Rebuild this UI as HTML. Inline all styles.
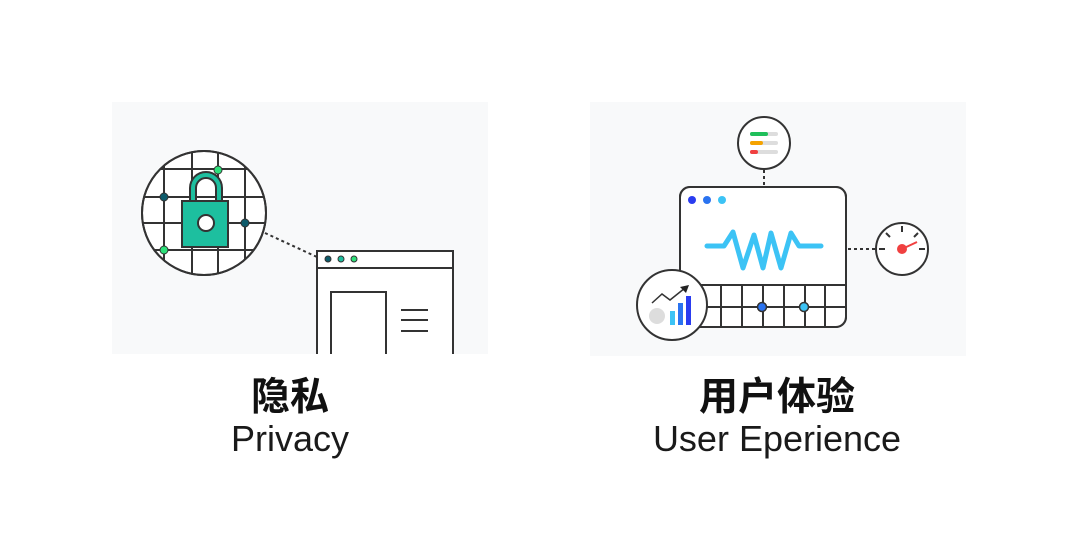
<!DOCTYPE html>
<html><head><meta charset="utf-8"><style>
body{margin:0;width:1080px;height:542px;background:#fff;position:relative;overflow:hidden;font-family:"Liberation Sans","Noto Sans CJK SC",sans-serif}
.t{position:absolute;text-align:center;color:#111;line-height:1}
.cn{font-size:39px;font-weight:bold;font-family:"Noto Sans CJK SC",sans-serif}
.en{font-size:36px;color:#1a1a1a}
</style></head><body>
<svg width="1080" height="542" style="position:absolute;left:0;top:0">
<defs><clipPath id="c1"><circle cx="204" cy="213" r="62"/></clipPath>
<clipPath id="c2"><rect x="680" y="187" width="166" height="140" rx="10"/></clipPath></defs>
<rect x="112" y="102" width="376" height="252" fill="#f8f9fa"/>
<rect x="590" y="102" width="376" height="254" fill="#f8f9fa"/>
<g stroke="#333" stroke-width="2">
<circle cx="204" cy="213" r="62" fill="#fff"/>
<g clip-path="url(#c1)">
<line x1="164" y1="140" x2="164" y2="290"/><line x1="192" y1="140" x2="192" y2="290"/><line x1="218" y1="140" x2="218" y2="290"/><line x1="245" y1="140" x2="245" y2="290"/>
<line x1="130" y1="169" x2="280" y2="169"/><line x1="130" y1="197" x2="280" y2="197"/><line x1="130" y1="223" x2="280" y2="223"/><line x1="130" y1="250" x2="280" y2="250"/>
</g>
<circle cx="204" cy="213" r="62" fill="none"/>
<path d="M190 201 V188 a15 15 0 0 1 32 0 V201 h-6 V188 a9 9 0 0 0 -20 0 V201z" fill="#1dbf9f"/>
<rect x="182" y="201" width="46" height="46" fill="#1dbf9f"/>
<circle cx="206" cy="223" r="8" fill="#fff"/>
<circle cx="218" cy="170" r="4" fill="#2de07a" stroke-width="1"/>
<circle cx="164" cy="197" r="4" fill="#0d5b6b" stroke-width="1"/>
<circle cx="245" cy="223" r="4" fill="#0d5b6b" stroke-width="1"/>
<circle cx="164" cy="250" r="4" fill="#2de07a" stroke-width="1"/>
<line x1="265" y1="233" x2="317" y2="257" stroke-dasharray="3,3"/>
<path d="M317 354 V251 H453 V354" fill="#fff"/>
<line x1="317" y1="268" x2="453" y2="268"/>
<path d="M331 354 V292 H386 V354" fill="none"/>
<line x1="401" y1="310" x2="428" y2="310"/><line x1="401" y1="320" x2="428" y2="320"/><line x1="401" y1="331" x2="428" y2="331"/>
<circle cx="328" cy="259" r="3" fill="#0d5b6b" stroke-width="1"/>
<circle cx="341" cy="259" r="3" fill="#1dbf9f" stroke-width="1"/>
<circle cx="354" cy="259" r="3" fill="#2de07a" stroke-width="1"/>
</g>
<g stroke="#333" stroke-width="2">
<line x1="764" y1="170" x2="764" y2="187" stroke-dasharray="3,3"/>
<line x1="848" y1="249" x2="876" y2="249" stroke-dasharray="3,3"/>
<rect x="680" y="187" width="166" height="140" rx="10" fill="#fff"/>
<g clip-path="url(#c2)">
<line x1="680" y1="285" x2="846" y2="285"/><line x1="680" y1="307" x2="846" y2="307"/>
<line x1="721" y1="285" x2="721" y2="327"/><line x1="742" y1="285" x2="742" y2="327"/><line x1="763" y1="285" x2="763" y2="327"/><line x1="784" y1="285" x2="784" y2="327"/><line x1="805" y1="285" x2="805" y2="327"/><line x1="825" y1="285" x2="825" y2="327"/>
</g>
<rect x="680" y="187" width="166" height="140" rx="10" fill="none"/>
<circle cx="762" cy="307" r="4.5" fill="#2a73f0" stroke-width="1.5"/>
<circle cx="804" cy="307" r="4.5" fill="#3cc3f5" stroke-width="1.5"/>
</g>
<circle cx="692" cy="200" r="4" fill="#2a3cf0"/><circle cx="707" cy="200" r="4" fill="#2a73f0"/><circle cx="722" cy="200" r="4" fill="#3cc3f5"/>
<polyline points="707,246 724,246 733,232 743,268 754,235 763,268 771,233 781,268 791,233 799,246 821,246" fill="none" stroke="#3cc3f5" stroke-width="5" stroke-linecap="round" stroke-linejoin="round"/>
<g stroke="#333" stroke-width="2">
<circle cx="764" cy="143" r="26" fill="#fff"/>
<circle cx="902" cy="249" r="26" fill="#fff"/>
<circle cx="672" cy="305" r="35" fill="#fff"/>
<line x1="879" y1="249" x2="885" y2="249"/><line x1="919" y1="249" x2="925" y2="249"/><line x1="902" y1="226" x2="902" y2="232"/>
<line x1="886" y1="233" x2="890" y2="237"/><line x1="918" y1="233" x2="914" y2="237"/>
<polyline points="652,303 662,294 670,300 685,288" fill="none" stroke-width="1.5"/>
</g>
<polygon points="689,285 680,287 686,293" fill="#222"/>
<rect x="750" y="132" width="28" height="4" rx="2" fill="#ddd"/><rect x="750" y="132" width="18" height="4" rx="2" fill="#1fbf5a"/>
<rect x="750" y="141" width="28" height="4" rx="2" fill="#ddd"/><rect x="750" y="141" width="13" height="4" rx="2" fill="#f5a300"/>
<rect x="750" y="150" width="28" height="4" rx="2" fill="#ddd"/><rect x="750" y="150" width="8" height="4" rx="2" fill="#f04040"/>
<circle cx="902" cy="249" r="5" fill="#f04040"/><line x1="902" y1="249" x2="917" y2="242" stroke="#f04040" stroke-width="2"/>
<circle cx="657" cy="316" r="8" fill="#ddd"/>
<rect x="670" y="311" width="5" height="14" fill="#3cc3f5"/>
<rect x="678" y="303" width="5" height="22" fill="#2a73f0"/>
<rect x="686" y="296" width="5" height="29" fill="#2a3cf0"/>
</svg>
<div class="t cn" style="left:140px;top:375px;width:300px">隐私</div>
<div class="t en" style="left:140px;top:421px;width:300px">Privacy</div>
<div class="t cn" style="left:627px;top:375px;width:300px">用户体验</div>
<div class="t en" style="left:577px;top:421px;width:400px">User Eperience</div>
</body></html>
